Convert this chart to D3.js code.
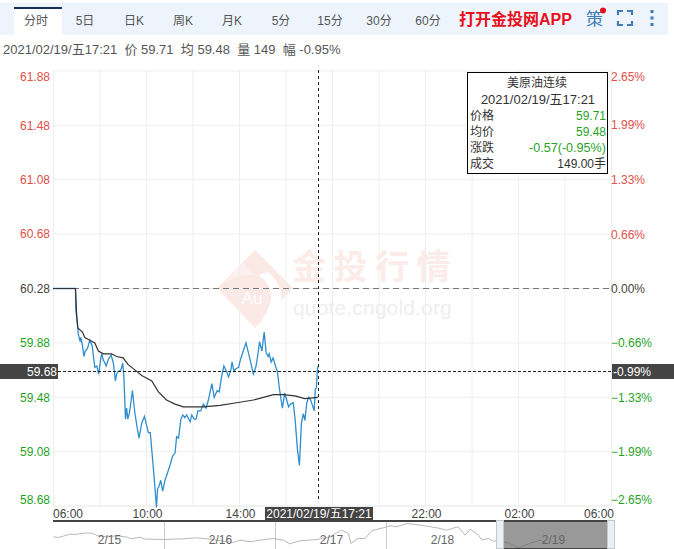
<!DOCTYPE html>
<html><head><meta charset="utf-8">
<script src="https://cdnjs.cloudflare.com/ajax/libs/d3/7.8.5/d3.min.js"></script>
<style>
html,body{margin:0;padding:0;background:#fff;overflow:hidden}
svg{display:block}
text{font-family:"Liberation Sans","Noto Sans CJK SC",sans-serif;font-size:12px}
</style></head><body><svg id="c" width="674" height="549"></svg>
<script>
const tabs=["分时","5日","日K","周K","月K","5分","15分","30分","60分"];
const statusText="2021/02/19/五17:21  价 59.71  均 59.48  量 149  幅 -0.95%";
const priceTicks=[61.88,61.48,61.08,60.68,60.28,59.88,59.48,59.08,58.68];
const pctTicks=[2.65,1.99,1.33,0.66,0,-0.66,-1.33,-1.99,-2.65];
const timeGrid=[0,120,240,360,480,600,720,840,960,1080,1200,1320,1440];
const timeLabels=[[0,"06:00"],[240,"10:00"],[480,"14:00"],[960,"22:00"],[1200,"02:00"],[1440,"06:00"]];
const prevClose=60.28;
const crossMinute=684, crossPrice=59.67;
const crossTime="2021/02/19/五17:21", crossPriceLabel="59.68", crossPctLabel="-0.99%";
const tipTitle="美原油连续";
const tipRows=[["价格","59.71","g"],["均价","59.48","g"],["涨跌","-0.57(-0.95%)","g"],["成交","149.00手","k"]];
const priceMinutes=[0,58,59,63,65,70,72,76,80,83,89,95,101,104,108,113,118,123,126,130,133,137,143,150,156,161,164,168,175,180,183,187,190,193,197,201,205,211,217,222,229,236,242,246,251,255,261,267,270,273,278,283,289,295,302,309,315,319,324,330,335,340,345,350,354,358,364,369,374,381,388,395,401,410,416,424,429,435,441,448,453,459,462,467,472,479,484,491,498,504,510,517,524,529,533,539,545,550,555,558,563,568,574,579,584,592,598,603,608,613,620,625,631,636,641,646,650,655,660,665,674,677,680,682,684];
const priceValues=[60.28,60.28,60.12,60.02,59.95,59.89,59.92,59.86,59.78,59.82,59.84,59.90,59.86,59.79,59.70,59.71,59.65,59.76,59.80,59.75,59.74,59.71,59.76,59.79,59.73,59.60,59.65,59.67,59.68,59.73,59.63,59.32,59.40,59.32,59.36,59.44,59.53,59.37,59.26,59.18,59.29,59.34,59.27,59.22,59.22,59.09,58.89,58.67,58.81,58.82,58.87,58.79,58.87,58.92,58.98,59.05,59.07,59.19,59.18,59.32,59.35,59.33,59.35,59.32,59.30,59.35,59.32,59.32,59.38,59.38,59.43,59.40,59.46,59.58,59.48,59.53,59.52,59.63,59.71,59.67,59.63,59.68,59.74,59.67,59.69,59.70,59.76,59.82,59.88,59.81,59.74,59.65,59.71,59.80,59.89,59.82,59.96,59.81,59.78,59.80,59.74,59.77,59.71,59.67,59.55,59.40,59.51,59.46,59.41,59.43,59.44,59.31,59.09,58.98,59.29,59.36,59.31,59.44,59.48,59.46,59.38,59.54,59.55,59.68,59.71];
const avgMinutes=[0,58,61,64,76,82,95,108,117,130,151,164,181,194,212,229,255,272,293,315,336,353,388,431,474,517,543,569,594,624,650,684];
const avgValues=[60.28,60.28,60.09,59.99,59.96,59.92,59.90,59.88,59.82,59.80,59.80,59.78,59.77,59.72,59.68,59.64,59.60,59.52,59.46,59.43,59.41,59.41,59.41,59.42,59.44,59.46,59.48,59.50,59.50,59.49,59.47,59.48];
const navHours=[0.07,1.15,2.23,3.67,4.76,6.56,8.36,9.8,11.6,13.76,15.93,17,18.8,19.9,23.85,28.2,31.06,33.95,36.8,39,40.4,42.6,44.8,47.6,49.8,51.2,53.4,57,59.9,62.4,63.9,64.4,66,67.5,68.9,71.4,72.9,74.3,76.5,79.4,83,85.1,85.84,87.6,89.1,90.2,92,92.7,94.1,95.2,97,98.8,100.6,103.1,105.3,106.8];
const navValues=[61.31,61.15,61.47,61.95,61.87,62.19,62.19,61.55,61.31,61.55,61.23,60.83,61.23,60.75,60.67,60.83,61.07,60.75,60.27,59.95,60.51,60.11,60.51,60.91,60.51,59.63,60.35,60.67,61.31,62.91,62.11,59.71,60.91,60.91,62.75,63.47,63.95,63.71,64.51,64.11,63.47,62.91,63.15,63.71,61.71,63.15,61.71,60.51,60.91,60.27,60.27,59.71,58.67,59.71,60.51,59.71];
const navDays=["2/15","2/16","2/17","2/18","2/19"];
const navDayHours=[0,24,48,72,96,120];

const RED="#e2504a",GREEN="#1fa31f",TXT="#444";
const svg=d3.select("#c");
const x=d3.scaleLinear().domain([0,1440]).range([53,611]);
const y=d3.scaleLinear().domain([58.68,61.88]).range([505.6,70.4]);
const y2=d3.scaleLinear().domain([-2.65,2.65]).range([505.6,70.4]);
const nx=d3.scaleLinear().domain([0,120]).range([53,608]);
const ny=d3.scaleLinear().domain([58,65]).range([550.6,521.4]);
const clr=v=>v>0?RED:(v<0?GREEN:TXT);

// toolbar
svg.append("rect").attr("x",0).attr("y",3).attr("width",668).attr("height",32).attr("fill","#eef4fb");
svg.append("rect").attr("x",14).attr("y",7).attr("width",48).attr("height",29).attr("fill","#fff");
svg.append("rect").attr("x",14).attr("y",7).attr("width",48).attr("height",2).attr("fill","#17305a");
svg.selectAll(".tab").data(tabs).join("text").attr("x",(d,i)=>36+i*49).attr("y",25)
  .attr("text-anchor","middle").attr("fill","#555").text(d=>d);
svg.append("text").attr("x",459).attr("y",25).attr("fill","#e8101c").style("font-size","16px").style("font-weight","bold").text("打开金投网APP");
svg.append("text").attr("x",586).attr("y",25).attr("fill","#3f7cb8").style("font-size","17px").text("策");
svg.append("circle").attr("cx",603).attr("cy",10.5).attr("r",3).attr("fill","#e8101c");
svg.append("path").attr("fill","none").attr("stroke","#3f7cb8").attr("stroke-width",2.2)
  .attr("d","M618 15V11H623M627 11H632V15M618 21V25H623M627 25H632V21");
svg.selectAll(".dot").data([0,1,2]).join("rect").attr("x",650.5).attr("y",d=>10+d*6.5).attr("width",3).attr("height",3).attr("fill","#3f7cb8");
svg.append("text").attr("x",3).attr("y",54).attr("fill","#555").style("font-size","13px").style("white-space","pre").text(statusText);

// watermark
const wm=svg.append("g");
wm.append("path").attr("d","M255 250L293 288L255 328L217 288Z").attr("fill","#fae9e5");
wm.append("path").attr("d","M258 275C272 284 277 300 262 319C268 321 272 318 276 314C286 300 282 284 268 272Z").attr("fill","#fff");
wm.append("path").attr("d","M217 288C228 278 244 274 258 275C250 272 245 268 245 260L255 250Z").attr("fill","#fbf0ed");
wm.append("text").attr("x",252).attr("y",304).attr("text-anchor","middle").attr("fill","#fff").style("font-size","17px").text("Au");
wm.append("text").attr("x",292).attr("y",279).attr("fill","#fbecE9").style("font-size","34px").style("font-weight","bold").style("letter-spacing","7.5px").text("金投行情");
wm.append("text").attr("x",293).attr("y",315).attr("fill","#eeeeee").style("font-size","21px").style("letter-spacing","0.15px").text("quote.cngold.org");

// grid
const gx=svg.append("g").attr("transform","translate(0,505.5)")
  .call(d3.axisBottom(x).tickValues(timeGrid).tickSize(-435.5).tickFormat(""));
gx.selectAll(".tick line").attr("stroke","#eeeeee");
gx.select(".domain").attr("stroke","#eeeeee");
const gl=svg.append("g").attr("transform","translate(53,0)")
  .call(d3.axisLeft(y).tickValues(priceTicks).tickSize(-558).tickPadding(3).tickFormat(d3.format(".2f")));
gl.select(".domain").remove();
gl.selectAll(".tick line").attr("stroke","#eeeeee");
gl.selectAll(".tick text").attr("fill",d=>clr(d-prevClose)).style("font-size","12px").attr("font-family",null)
  .attr("dy",d=>d===61.88?"10.5":(d===58.68?"-2.4":"4.3"));
const gr=svg.append("g").attr("transform","translate(611,0)")
  .call(d3.axisRight(y2).tickValues(pctTicks).tickSize(0).tickPadding(0).tickFormat(d=>d3.format(".2f")(d)+"%"));
gr.select(".domain").remove();
gr.selectAll(".tick text").attr("fill",d=>clr(d)).style("font-size","12px").attr("font-family",null)
  .attr("dy",d=>d===2.65?"10.5":(d===-2.65?"-2.4":"4.3"));

// prev close line
svg.append("line").attr("x1",53).attr("x2",612).attr("y1",y(prevClose)+.5).attr("y2",y(prevClose)+.5)
  .attr("stroke","#777").attr("stroke-dasharray","6,4");

// series
const series=svg.append("g").attr("transform","translate(0,0.5)");
const lineP=d3.line().x((d,i)=>x(priceMinutes[i])).y(d=>y(d));
const lineA=d3.line().x((d,i)=>x(avgMinutes[i])).y(d=>y(d));
series.append("path").datum(priceValues).attr("d",lineP).attr("fill","none").attr("stroke","#2f8ecf").attr("stroke-width",1.3);
series.append("path").datum(avgValues).attr("d",lineA).attr("fill","none").attr("stroke","#333").attr("stroke-width",1.2);

// crosshair
const cxp=Math.round(x(crossMinute))+.5, cyp=Math.round(y(crossPrice))+.5;
svg.append("line").attr("x1",cxp).attr("x2",cxp).attr("y1",70).attr("y2",500)
  .attr("stroke","#222").attr("stroke-dasharray","3,3");
svg.append("line").attr("x1",58).attr("x2",612).attr("y1",cyp).attr("y2",cyp)
  .attr("stroke","#222").attr("stroke-dasharray","3,2");
svg.append("rect").attr("x",0).attr("y",cyp-7.5).attr("width",58).attr("height",15).attr("fill","#444");
svg.append("text").attr("x",57).attr("y",cyp+4.5).attr("text-anchor","end").attr("fill","#fff").text(crossPriceLabel);
svg.append("rect").attr("x",612).attr("y",cyp-7.5).attr("width",62).attr("height",15).attr("fill","#444");
svg.append("text").attr("x",613).attr("y",cyp+4.5).attr("fill","#fff").text(crossPctLabel);

// time labels
svg.selectAll(".tl").data(timeLabels).join("text")
  .attr("x",d=>Math.min(599,Math.max(68,x(d[0])+1.5))).attr("y",518).attr("text-anchor","middle").attr("fill",TXT).text(d=>d[1]);
svg.append("rect").attr("x",265).attr("y",507).attr("width",108).attr("height",14).attr("fill","#444");
svg.append("text").attr("x",319).attr("y",518).attr("text-anchor","middle").attr("fill","#fff").text(crossTime);

// tooltip
const tip=svg.append("g");
tip.append("rect").attr("x",467.5).attr("y",72.5).attr("width",140).attr("height",101).attr("fill","#fff").attr("stroke","#000");
tip.append("text").attr("x",537).attr("y",87).attr("text-anchor","middle").attr("fill","#333").text(tipTitle);
tip.append("text").attr("x",538).attr("y",104).attr("text-anchor","middle").attr("fill","#333").style("font-size","13px").text(crossTime);
tipRows.forEach((r,i)=>{
  const yy=120+i*16;
  tip.append("text").attr("x",470).attr("y",yy).attr("fill","#333").text(r[0]);
  tip.append("text").attr("x",606).attr("y",yy).attr("text-anchor","end").attr("fill",r[2]==="g"?GREEN:"#333").style("font-size",i===2?"12.6px":"12px").text(r[1]);
});

// navigator
const n=svg.append("g");
n.selectAll(".nv").data(navDayHours.slice(1,5)).join("line").attr("x1",d=>nx(d)+.5).attr("x2",d=>nx(d)+.5).attr("y1",522).attr("y2",549).attr("stroke","#ccc");
n.append("rect").attr("x",503).attr("y",522).attr("width",104).attr("height",26).attr("fill","#999");
const lineN=d3.line().x((d,i)=>nx(navHours[i])).y(d=>ny(d));
svg.append("clipPath").attr("id","sel").append("rect").attr("x",503).attr("y",522).attr("width",104).attr("height",26);
n.append("path").datum(navValues).attr("d",lineN).attr("fill","none").attr("stroke","#b8b8b8").attr("stroke-width",1);
n.append("path").datum(navValues).attr("d",lineN).attr("fill","none").attr("stroke","#777").attr("stroke-width",1).attr("clip-path","url(#sel)");
n.selectAll(".nd").data(navDays).join("text").attr("x",(d,i)=>nx(navDayHours[i]+12)+1).attr("y",544)
  .attr("text-anchor","middle").attr("fill","#666").style("font-size","12px").text(d=>d);
n.append("rect").attr("x",53).attr("y",520).attr("width",554).attr("height",2).attr("fill","#444");
n.append("rect").attr("x",503).attr("y",548).attr("width",104).attr("height",1).attr("fill","#444");
[[496,7],[607,7]].forEach(h=>n.append("rect").attr("x",h[0]+.5).attr("y",520.5).attr("width",h[1]).attr("height",28).attr("fill","#eceff4").attr("stroke","#c4c8cf"));
</script></body></html>
